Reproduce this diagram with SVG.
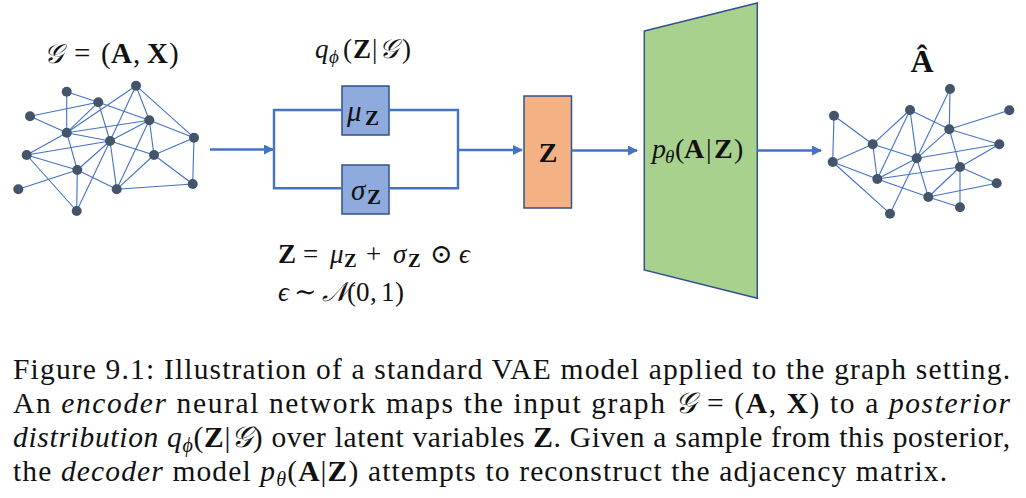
<svg xmlns="http://www.w3.org/2000/svg" width="1026" height="498" viewBox="0 0 1026 498">
<style>
.e{stroke:#4472C4;stroke-width:1.1;fill:none}
.v{fill:#44546A}
.c{stroke:#4472C4;stroke-width:2.4;fill:none}
.t{font-family:"Liberation Serif","DejaVu Serif",serif;fill:#111}
.i{font-style:italic}
.b{font-weight:bold}
.box{stroke:#2F528F;stroke-width:1.5}
</style>
<defs>
<marker id="ah" viewBox="0 0 10 10" refX="9" refY="5" markerWidth="10" markerHeight="10" markerUnits="userSpaceOnUse" orient="auto">
<path d="M0,0 L10,5 L0,10 z" fill="#4472C4"/>
</marker>
</defs>
<rect width="1026" height="498" fill="#fff"/>

<g id="input-graph">
<g class="e">
<line x1="66.7" y1="91.7" x2="66.7" y2="132.7"/>
<line x1="66.7" y1="91.7" x2="98.3" y2="102.3"/>
<line x1="98.3" y1="102.3" x2="149.3" y2="120.3"/>
<line x1="30" y1="116.3" x2="98.3" y2="102.3"/>
<line x1="98.3" y1="102.3" x2="66.7" y2="132.7"/>
<line x1="98.3" y1="102.3" x2="110" y2="141"/>
<line x1="136" y1="85.7" x2="66.7" y2="132.7"/>
<line x1="136" y1="85.7" x2="110" y2="141"/>
<line x1="136" y1="85.7" x2="149.3" y2="120.3"/>
<line x1="136" y1="85.7" x2="194" y2="137.7"/>
<line x1="30" y1="116.3" x2="66.7" y2="132.7"/>
<line x1="66.7" y1="132.7" x2="149.3" y2="120.3"/>
<line x1="66.7" y1="132.7" x2="110" y2="141"/>
<line x1="66.7" y1="132.7" x2="26.7" y2="155"/>
<line x1="66.7" y1="132.7" x2="77.3" y2="170"/>
<line x1="149.3" y1="120.3" x2="110" y2="141"/>
<line x1="149.3" y1="120.3" x2="194" y2="137.7"/>
<line x1="149.3" y1="120.3" x2="154" y2="155"/>
<line x1="149.3" y1="120.3" x2="116.7" y2="189.3"/>
<line x1="110" y1="141" x2="26.7" y2="155"/>
<line x1="110" y1="141" x2="154" y2="155"/>
<line x1="110" y1="141" x2="77.3" y2="170"/>
<line x1="110" y1="141" x2="116.7" y2="189.3"/>
<line x1="110" y1="141" x2="76.7" y2="211"/>
<line x1="194" y1="137.7" x2="154" y2="155"/>
<line x1="194" y1="137.7" x2="192.7" y2="184"/>
<line x1="26.7" y1="155" x2="77.3" y2="170"/>
<line x1="26.7" y1="155" x2="76.7" y2="211"/>
<line x1="154" y1="155" x2="116.7" y2="189.3"/>
<line x1="154" y1="155" x2="192.7" y2="184"/>
<line x1="77.3" y1="170" x2="18.3" y2="189.3"/>
<line x1="77.3" y1="170" x2="116.7" y2="189.3"/>
<line x1="77.3" y1="170" x2="76.7" y2="211"/>
<line x1="116.7" y1="189.3" x2="192.7" y2="184"/>
</g>
<g class="v">
<circle cx="66.7" cy="91.7" r="5"/>
<circle cx="98.3" cy="102.3" r="5"/>
<circle cx="136" cy="85.7" r="5"/>
<circle cx="30" cy="116.3" r="5"/>
<circle cx="66.7" cy="132.7" r="5"/>
<circle cx="149.3" cy="120.3" r="5"/>
<circle cx="110" cy="141" r="5"/>
<circle cx="194" cy="137.7" r="5"/>
<circle cx="26.7" cy="155" r="5"/>
<circle cx="154" cy="155" r="5"/>
<circle cx="77.3" cy="170" r="5"/>
<circle cx="18.3" cy="189.3" r="5"/>
<circle cx="116.7" cy="189.3" r="5"/>
<circle cx="192.7" cy="184" r="5"/>
<circle cx="76.7" cy="211" r="5"/>
</g>
<text class="t" y="63" font-size="29"><tspan x="44" class="i" font-size="27">𝒢</tspan><tspan x="74">=</tspan><tspan x="101">(</tspan><tspan x="111" class="b">A</tspan><tspan x="133">,</tspan><tspan x="147" class="b">X</tspan><tspan x="169">)</tspan></text>
</g>

<g id="encoder-label">
<text class="t" y="58" font-size="27"><tspan x="315" class="i">q</tspan><tspan x="329" dy="5" font-size="19" class="i">ϕ</tspan><tspan x="343" dy="-5">(</tspan><tspan x="353" class="b">Z</tspan><tspan x="372">|</tspan><tspan x="379" class="i">𝒢</tspan><tspan x="402">)</tspan></text>
</g>

<g id="mu-box">
<rect class="box" x="342" y="86" width="47" height="49" fill="#8FAADC"/>
<text class="t" y="121" font-size="29"><tspan x="347" class="i">μ</tspan><tspan x="365" dy="4" class="b" font-size="21">Z</tspan></text>
</g>

<g id="sigma-box">
<rect class="box" x="342" y="165" width="47" height="49" fill="#8FAADC"/>
<text class="t" y="200" font-size="29"><tspan x="351" class="i">σ</tspan><tspan x="367" dy="4" class="b" font-size="21">Z</tspan></text>
</g>

<g id="z-box">
<rect class="box" x="524" y="96" width="47.5" height="112" fill="#F4B183"/>
<text class="t b" x="548" y="162" font-size="28" text-anchor="middle">Z</text>
</g>

<g id="decoder">
<polygon class="box" points="644.3,31 757.3,3 757.3,298.3 644.3,270" fill="#A9D18E"/>
<text class="t" y="158" font-size="28"><tspan x="652" class="i">p</tspan><tspan x="665" dy="5" class="i" font-size="19">θ</tspan><tspan x="675" dy="-5">(</tspan><tspan x="684" class="b">A</tspan><tspan x="706">|</tspan><tspan x="714" class="b">Z</tspan><tspan x="734">)</tspan></text>
</g>

<g id="output-graph">
<g class="e">
<line x1="950" y1="89" x2="949.3" y2="129.3"/>
<line x1="950" y1="89" x2="916.7" y2="158.3"/>
<line x1="1009.3" y1="110.3" x2="949.3" y2="129.3"/>
<line x1="834" y1="115.7" x2="832.7" y2="162"/>
<line x1="834" y1="115.7" x2="872.7" y2="144.3"/>
<line x1="910" y1="110" x2="872.7" y2="144.3"/>
<line x1="910" y1="110" x2="877.3" y2="179"/>
<line x1="910" y1="110" x2="916.7" y2="158.3"/>
<line x1="910" y1="110" x2="949.3" y2="129.3"/>
<line x1="949.3" y1="129.3" x2="999.3" y2="144.3"/>
<line x1="949.3" y1="129.3" x2="916.7" y2="158.3"/>
<line x1="949.3" y1="129.3" x2="960" y2="167"/>
<line x1="872.7" y1="144.3" x2="832.7" y2="162"/>
<line x1="872.7" y1="144.3" x2="916.7" y2="158.3"/>
<line x1="872.7" y1="144.3" x2="877.3" y2="179"/>
<line x1="999.3" y1="144.3" x2="916.7" y2="158.3"/>
<line x1="999.3" y1="144.3" x2="960" y2="167"/>
<line x1="916.7" y1="158.3" x2="877.3" y2="179"/>
<line x1="916.7" y1="158.3" x2="928.3" y2="197"/>
<line x1="916.7" y1="158.3" x2="890" y2="213.7"/>
<line x1="832.7" y1="162" x2="877.3" y2="179"/>
<line x1="832.7" y1="162" x2="890" y2="213.7"/>
<line x1="960" y1="167" x2="877.3" y2="179"/>
<line x1="960" y1="167" x2="996.7" y2="183.3"/>
<line x1="960" y1="167" x2="928.3" y2="197"/>
<line x1="960" y1="167" x2="960" y2="207.3"/>
<line x1="877.3" y1="179" x2="928.3" y2="197"/>
<line x1="996.7" y1="183.3" x2="928.3" y2="197"/>
<line x1="928.3" y1="197" x2="960" y2="207.3"/>
</g>
<g class="v">
<circle cx="950" cy="89" r="5"/>
<circle cx="1009.3" cy="110.3" r="5"/>
<circle cx="834" cy="115.7" r="5"/>
<circle cx="910" cy="110" r="5"/>
<circle cx="949.3" cy="129.3" r="5"/>
<circle cx="872.7" cy="144.3" r="5"/>
<circle cx="999.3" cy="144.3" r="5"/>
<circle cx="916.7" cy="158.3" r="5"/>
<circle cx="832.7" cy="162" r="5"/>
<circle cx="960" cy="167" r="5"/>
<circle cx="877.3" cy="179" r="5"/>
<circle cx="996.7" cy="183.3" r="5"/>
<circle cx="928.3" cy="197" r="5"/>
<circle cx="960" cy="207.3" r="5"/>
<circle cx="890" cy="213.7" r="5"/>
</g>
<text class="t b" x="922" y="72" font-size="32" text-anchor="middle">Â</text>
</g>

<g id="connectors">
<line class="c" x1="210" y1="149.5" x2="273" y2="149.5" marker-end="url(#ah)"/>
<polyline class="c" points="342,110 274,110 274,188.3 342,188.3"/>
<polyline class="c" points="389,110 458,110 458,188.3 389,188.3"/>
<line class="c" x1="458" y1="150" x2="522" y2="150" marker-end="url(#ah)"/>
<line class="c" x1="571.5" y1="150.5" x2="637" y2="150.5" marker-end="url(#ah)"/>
<line class="c" x1="757.3" y1="150.5" x2="821" y2="150.5" marker-end="url(#ah)"/>
</g>

<g id="equations">
<text class="t" y="263" font-size="27"><tspan x="278" class="b">Z</tspan><tspan x="303">=</tspan><tspan x="330" class="i">μ</tspan><tspan x="344" dy="4" class="b" font-size="19">Z</tspan><tspan x="366" dy="-4">+</tspan><tspan x="393" class="i">σ</tspan><tspan x="408" dy="4" class="b" font-size="19">Z</tspan><tspan x="430" dy="-4">⊙</tspan><tspan x="459" class="i">ϵ</tspan></text>
<text class="t" y="301" font-size="27"><tspan x="278" class="i">ϵ</tspan><tspan x="294">∼</tspan><tspan x="322" class="i">𝒩</tspan><tspan x="347">(</tspan><tspan x="356">0</tspan><tspan x="370">,</tspan><tspan x="381">1</tspan><tspan x="395">)</tspan></text>
</g>

<g id="caption" font-size="29.5">
<text class="t" x="13" y="379" textLength="997" lengthAdjust="spacing">Figure 9.1: Illustration of a standard VAE model applied to the graph setting.</text>
<text class="t" x="13" y="413" textLength="997" lengthAdjust="spacing">An <tspan class="i">encoder</tspan> neural network maps the input graph <tspan class="i">𝒢</tspan> = (<tspan class="b">A</tspan>, <tspan class="b">X</tspan>) to a <tspan class="i">posterior</tspan></text>
<text class="t" x="13" y="447" textLength="997" lengthAdjust="spacing"><tspan class="i">distribution q</tspan><tspan class="i" font-size="20" dy="5">ϕ</tspan><tspan dy="-5">(</tspan><tspan class="b">Z</tspan>|<tspan class="i">𝒢</tspan>) over latent variables <tspan class="b">Z</tspan>. Given a sample from this posterior,</text>
<text class="t" x="13" y="481" textLength="934" lengthAdjust="spacing">the <tspan class="i">decoder</tspan> model <tspan class="i">p</tspan><tspan class="i" font-size="20" dy="5">θ</tspan><tspan dy="-5">(</tspan><tspan class="b">A</tspan>|<tspan class="b">Z</tspan>) attempts to reconstruct the adjacency matrix.</text>
</g>
</svg>
